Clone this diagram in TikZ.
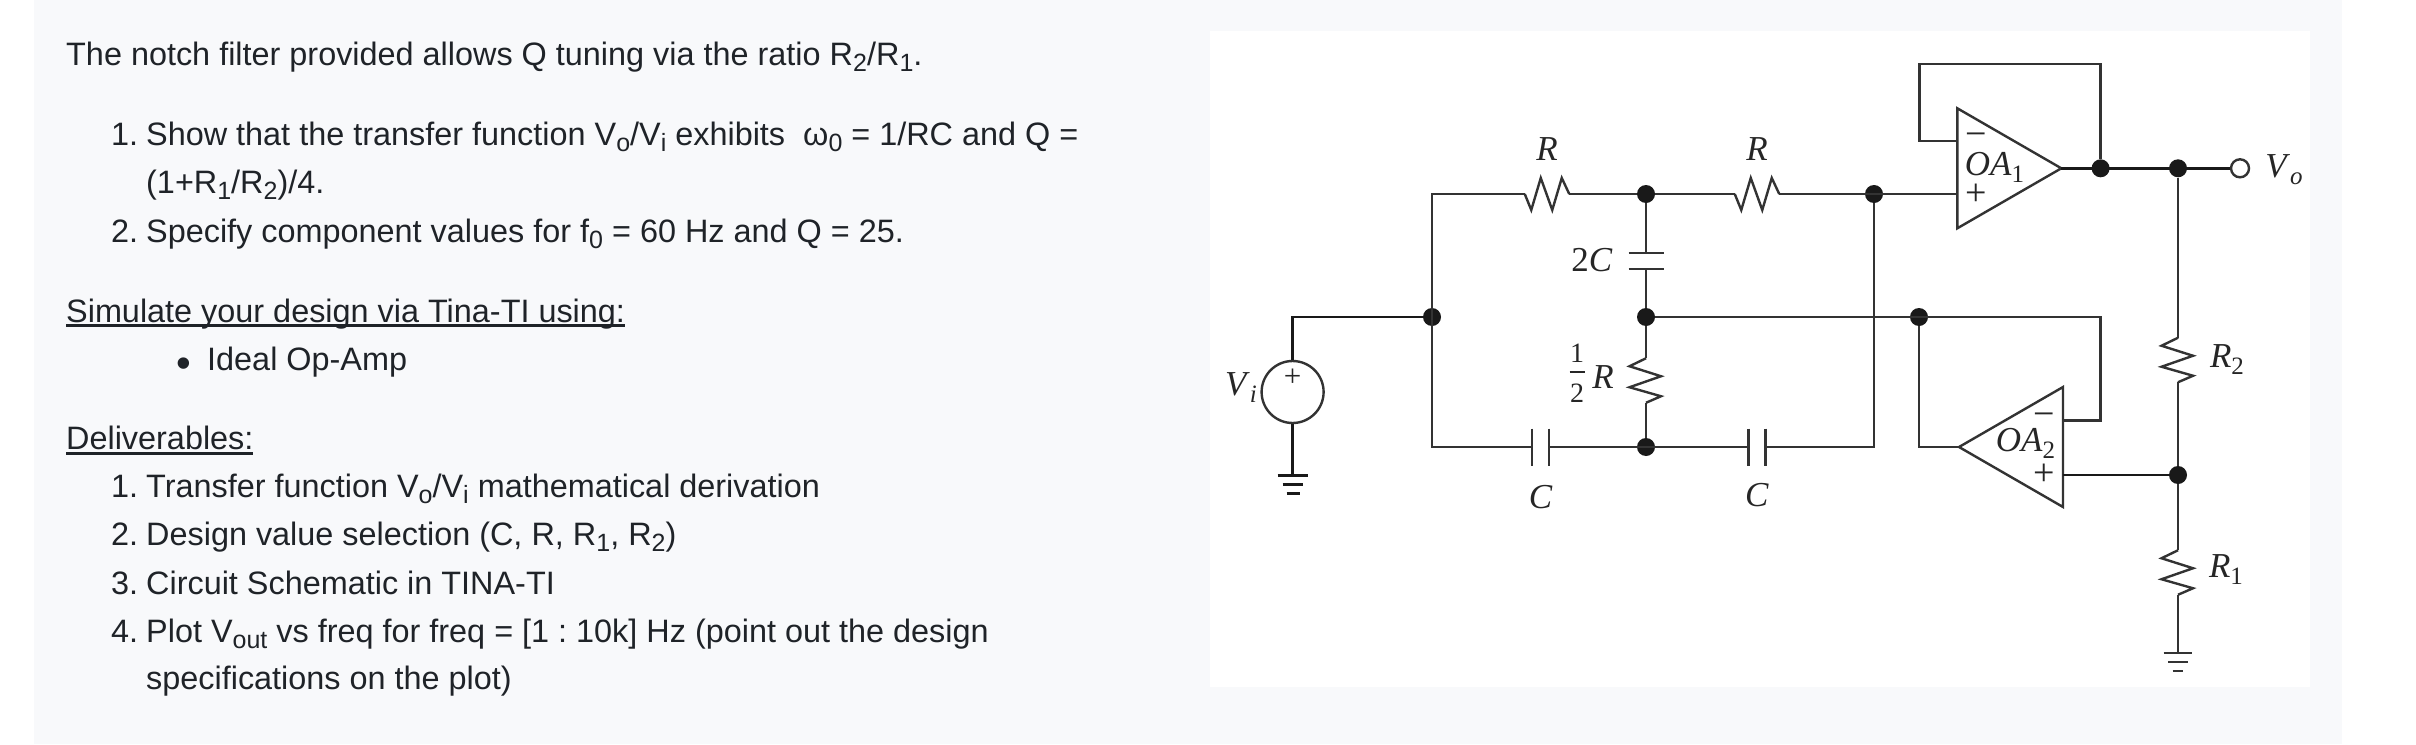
\documentclass[tikz,border=0pt]{standalone}
\usepackage{fontspec}
\setmainfont{Liberation Sans}
\newfontfamily\circfont{Liberation Serif}
\usetikzlibrary{shapes.geometric}
\definecolor{panel}{HTML}{F8F9FB}
\definecolor{ink}{HTML}{1F2328}
\definecolor{wirecol}{HTML}{333333}
\newcommand{\dn}[1]{\raisebox{-6pt}{\fontsize{25}{25}\selectfont #1}}
\newcommand{\cdn}[1]{\raisebox{-7pt}{\fontsize{25}{25}\selectfont\circfont #1}}
\newcommand{\ulin}[1]{\setbox0=\hbox{#1}\rlap{\rule[-5pt]{\wd0}{3pt}}\box0}
\begin{document}
\begin{tikzpicture}[x=1pt,y=-1pt,node distance=45pt,
  wire/.style={draw=wirecol,line width=2.4pt},
  dark wire/.style={draw=black!90,line width=2.6pt},
  text line/.style={anchor=base west,inner sep=0pt,text=ink,font=\fontsize{32.4}{38}\selectfont\frenchspacing},
  junction/.style={circle,fill=black!90,inner sep=0pt,minimum size=18pt},
  h res/.style={inner sep=0pt,outer sep=0pt,minimum width=44.5pt,minimum height=32pt},
  v res/.style={inner sep=0pt,outer sep=0pt,minimum width=32pt,minimum height=44.5pt},
  h cap/.style={inner sep=0pt,outer sep=0pt,minimum width=17pt,minimum height=37pt},
  v cap/.style={inner sep=0pt,outer sep=0pt,minimum width=35pt,minimum height=16pt},
  op amp/.style={draw=wirecol,line width=2.4pt,isosceles triangle,isosceles triangle stretches,
     inner sep=0pt,outer sep=0pt,minimum width=120pt,minimum height=104pt},
  sym/.style={inner sep=0pt,text=black!85,font=\fontsize{35}{35}\selectfont\circfont},
  small sym/.style={inner sep=0pt,text=black!85,font=\fontsize{28}{28}\selectfont\circfont},
  pm sym/.style={inner sep=0pt,text=black!85,font=\fontsize{38}{38}\selectfont\circfont}]

  \useasboundingbox (0,0) rectangle (2416,744);
  \fill[panel] (34,0) rectangle (2342,744);
  \fill[white] (1210,31) rectangle (2310,687);

  % left column
   \node[text line] (11) at (66,65.5) {The notch filter provided allows Q tuning via the ratio R\dn{2}/R\dn{1}.};
   \node[text line] (21) at (111,145.5) {1.};
   \node[text line] (22) at (146,145.5) {Show that the transfer function V\dn{o}/V\dn{i} exhibits\ \ ω\dn{0} = 1/RC and Q =};
   \node[text line] (32) at (146,193.5) {(1+R\dn{1}/R\dn{2})/4.};
   \node[text line] (41) at (111,242) {2.};
   \node[text line] (42) at (146,242) {Specify component values for f\dn{0} = 60 Hz and Q = 25.};
   \node[text line] (51) at (66,322) {\ulin{Simulate your design via Tina-TI using:}};
   \node[text line,font=\fontsize{42}{42}\selectfont] (61) at (176,377) {•};
   \node[text line] (62) at (207,370) {Ideal Op-Amp};
   \node[text line] (71) at (66,449.5) {\ulin{Deliverables:}};
   \node[text line] (81) at (111,497.5) {1.};
   \node[text line] (82) at (146,497.5) {Transfer function V\dn{o}/V\dn{i} mathematical derivation};
   \node[text line] (91) at (111,545.5) {2.};
   \node[text line] (92) at (146,545.5) {Design value selection (C, R, R\dn{1}, R\dn{2})};
   \node[text line] (101) at (111,594) {3.};
   \node[text line] (102) at (146,594) {Circuit Schematic in TINA-TI};
   \node[text line] (111) at (111,642) {4.};
   \node[text line] (112) at (146,642) {Plot V\dn{out} vs freq for freq = [1 : 10k] Hz (point out the design};
   \node[text line] (122) at (146,689.5) {specifications on the plot)};

  % the circuit
   \node[circle,draw=wirecol,line width=2.4pt,minimum size=62pt,inner sep=0pt] (src) at (1292.6,392) {};
   \node[inner sep=0pt,text=black!85,font=\fontsize{31}{31}\selectfont\circfont] (srcp) at (1292.6,378) {+};
   \node[sym] (vi) at (1241,388) {\textit{V}\raisebox{-7pt}{\fontsize{25}{25}\selectfont\textit{i}}};
   \coordinate (g1) at (1292.6,475.3);

   \node[junction] (j1) at (1432,317) {};
   \coordinate (c1) at (1432,194);
   \coordinate (c2) at (1432,447);
   \node[h res] (r1) at (1547,194) {};
   \node[sym] (lr1) [above of=r1] {\textit{R}};
   \node[junction] (j2) at (1646,194) {};
   \node[h res] (r2) at (1757,194) {};
   \node[sym] (lr2) [above of=r2] {\textit{R}};
   \node[junction] (j3) at (1874,194) {};
   \node[v cap] (c2c) at (1646,260.7) {};
   \node[sym] (l2c) at (1592,260) {2\textit{C}};
   \node[junction] (j4) at (1646,317) {};
   \node[v res] (r3) at (1646,380.5) {};
   \node[small sym] (half1) at (1577,353) {1};
   \node[inner sep=0pt] (halfbar) [below of=half1,node distance=19pt] {\textcolor{black!85}{\rule{15pt}{2pt}}};
   \node[small sym] (half2) [below of=halfbar,node distance=21pt] {2};
   \node[sym] (lr3) at (1603,377) {\textit{R}};
   \node[junction] (j5) at (1646,447) {};
   \node[h cap] (c1c) at (1540.7,447) {};
   \node[sym] (lc1) [below of=c1c,node distance=50pt] {\textit{C}};
   \node[h cap] (c2d) at (1757,447) {};
   \node[sym] (lc2) [below of=c2d,node distance=48pt] {\textit{C}};
   \node[junction] (j6) at (1919,317) {};
   \coordinate (c3) at (1874,447);
   \coordinate (c4) at (1919,447);
   \coordinate (c5) at (2100.6,317);
   \coordinate (c6) at (2100.6,420.5);

   \node[op amp,anchor=apex] (oa1) at (2061.3,168.3) {};
   \coordinate (oa1m) at (1957.6,140.7);
   \coordinate (oa1p) at (1957.6,194);
   \coordinate (c7) at (1919.4,140.7);
   \coordinate (c8) at (1919.4,64);
   \coordinate (c9) at (2100.6,64);
   \node[sym] (oa1t) at (1994.5,167.5) {\textit{OA}\cdn{1}};
   \node[pm sym] (oa1a) at (1976.5,140) {−};
   \node[pm sym] (oa1b) at (1976.5,194.5) {+};

   \node[op amp,anchor=apex,shape border rotate=180] (oa2) at (1959,447) {};
   \coordinate (oa2m) at (2062.5,420.5);
   \coordinate (oa2p) at (2062.5,475);
   \node[sym] (oa2t) at (2025.5,443.5) {\textit{OA}\cdn{2}};
   \node[pm sym] (oa2a) at (2044,420) {−};
   \node[pm sym] (oa2b) at (2044,474.5) {+};

   \node[junction] (j7) at (2100.6,168.3) {};
   \node[junction] (j8) at (2178,168.3) {};
   \node[circle,draw=wirecol,line width=2.4pt,fill=white,minimum size=18pt,inner sep=0pt] (vout) at (2240,168.3) {};
   \node[sym] (vo) at (2284,170) {\textit{V}\raisebox{-7pt}{\fontsize{25}{25}\selectfont\textit{o}}};
   \node[v res] (r4) at (2178,360) {};
   \node[sym] (lr4) at (2227,360) {\textit{R}\cdn{2}};
   \node[junction] (j9) at (2178,475) {};
   \node[v res] (r5) at (2178,572.5) {};
   \node[sym] (lr5) at (2226,570) {\textit{R}\cdn{1}};
   \coordinate (g2) at (2178,652.7);

  % source side
   \draw[dark wire] (j1) -| (src);
   \draw[dark wire] (src) -- (g1);
   \draw[dark wire] (1277.7,475.3) -- (1308,475.3) (1282.7,484.3) -- (1303,484.3) (1286.5,493.3) -- (1299.5,493.3);

  % wires
   \draw[wire] (j2) -- (r1.east);
   \draw[wire] (r1.west) -- (c1) -- (c2) -- (c1c.west);
   \draw[wire] (j2) -- (r2.west);
   \draw[wire] (r2.east) -- (oa1p);
   \draw[wire] (j2) -- (c2c.north);
   \draw[wire] (c2c.south) -- (j4);
   \draw[wire] (j4) -- (r3.north);
   \draw[wire] (r3.south) -- (j5);
   \draw[wire] (c1c.east) -- (c2d.west);
   \draw[wire] (c2d.east) -- (c3) -- (j3);
   \draw[wire] (j4) -- (c5) -- (c6) -- (oa2m);
   \draw[wire] (j6) -- (c4) -- (oa2.apex);
   \draw[wire] (oa1m) -- (c7) -- (c8) -- (c9) -- (j7);
   \draw[dark wire] (oa1.apex) -- (vout);
   \draw[wire] (j8) -- (r4.north);
   \draw[wire] (r4.south) -- (j9);
   \draw[dark wire] (oa2p) -- (j9);
   \draw[wire] (j9) -- (r5.north);
   \draw[wire] (r5.south) -- (g2);
   \draw[wire] (2163.5,652.7) -- (2192,652.7) (2168,662) -- (2188,662) (2172.5,670.7) -- (2183,670.7);

  % zigzags and plates
   \foreach \r in {r1,r2}
     \draw[wire,line join=miter] (\r.west) -- ++(6.5,16) -- ++(9.5,-32) -- ++(11.5,32) -- ++(9.5,-32) -- (\r.east);
   \foreach \r in {r3,r4,r5}
     \draw[wire,line join=miter] (\r.north) -- ++(-16.5,8) -- ++(31.5,10) -- ++(-31.5,11) -- ++(31.5,9) -- (\r.south);
   \foreach \c in {c1c,c2d}
     \draw[wire,yshift=-1.5pt] (\c.north west) -- (\c.south west) (\c.north east) -- (\c.south east);
   \draw[wire] (c2c.north west) -- (c2c.north east) (c2c.south west) -- (c2c.south east);
%   \draw[wire] (j3) to (j6);
%   \path (oa2) edge [loop above] (oa2);
\end{tikzpicture}
\end{document}
